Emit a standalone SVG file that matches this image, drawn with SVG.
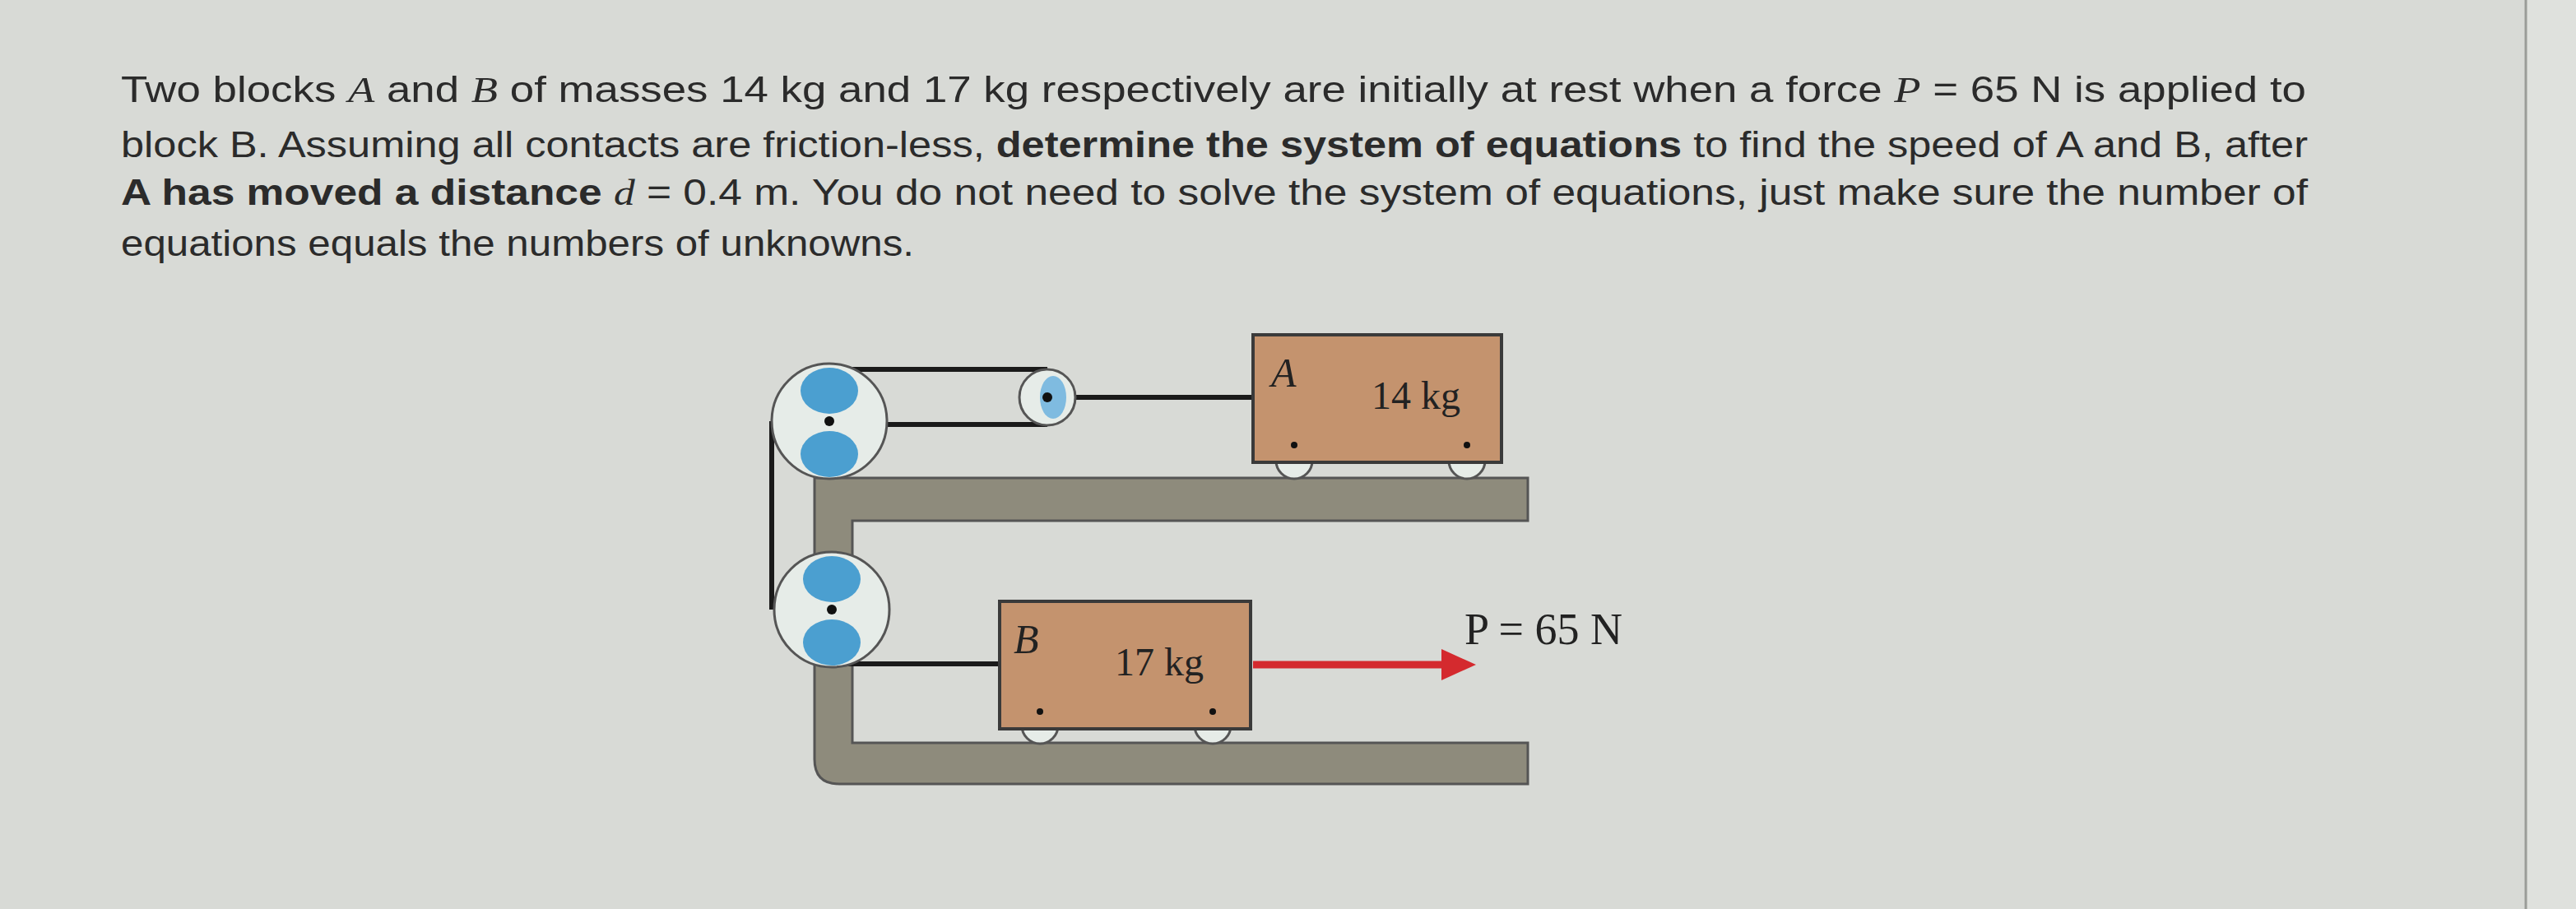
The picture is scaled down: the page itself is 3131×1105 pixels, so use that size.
<svg xmlns="http://www.w3.org/2000/svg" width="3131" height="1105" viewBox="0 0 3131 1105">
<style>
.t{font-family:"Liberation Sans","DejaVu Sans",sans-serif;font-size:44px;fill:#2b2b2b}
.m{font-family:"Liberation Serif",serif;font-style:italic}
.b{font-weight:bold}
.lbl{font-family:"Liberation Serif",serif;fill:#222}
.cord{stroke:#1a1a1a;stroke-width:6;fill:none}
.blk{fill:#c4936e;stroke:#3a3a3a;stroke-width:4}
.wh{fill:#e6ece8;stroke:#555;stroke-width:3}
.track{fill:#8e8b7c;stroke:#555;stroke-width:3}
</style>
<rect width="3131" height="1105" fill="#d8dad6"/>
<rect x="3070" y="0" width="61" height="1105" fill="#dfe1dd"/>
<line x1="3070" y1="0" x2="3070" y2="1105" stroke="#9a9c98" stroke-width="3"/>
<g id="text">
<text class="t" x="147" y="124" textLength="2656" lengthAdjust="spacingAndGlyphs">Two blocks <tspan class="m">A</tspan> and <tspan class="m">B</tspan> of masses 14 kg and 17 kg respectively are initially at rest when a force <tspan class="m">P</tspan> = 65 N is applied to</text>
<text class="t" x="147" y="191" textLength="2658" lengthAdjust="spacingAndGlyphs">block B. Assuming all contacts are friction-less, <tspan class="b">determine the system of equations</tspan> to find the speed of A and B, after</text>
<text class="t" x="147" y="249" textLength="2658" lengthAdjust="spacingAndGlyphs"><tspan class="b">A has moved a distance</tspan> <tspan class="m">d</tspan> = 0.4 m. You do not need to solve the system of equations, just make sure the number of</text>
<text class="t" x="147" y="311" textLength="964" lengthAdjust="spacingAndGlyphs">equations equals the numbers of unknowns.</text>
</g>
<g id="track">
<path class="track" d="M990 581 H1857 V633 H1036 V903 H1857 V953 H1020 Q990 953 990 923 Z"/>
</g>
<g id="connectors">
<line class="cord" x1="1008" y1="449" x2="1273" y2="449"/>
<line class="cord" x1="1008" y1="516" x2="1273" y2="516"/>
<line class="cord" x1="1273" y1="483" x2="1523" y2="483"/>
<line class="cord" x1="938" y1="512" x2="938" y2="741"/>
<line class="cord" x1="1011" y1="807" x2="1215" y2="807"/>
<line x1="1523" y1="808" x2="1760" y2="808" stroke="#d42a2e" stroke-width="9"/>
<polygon points="1752,789 1794,808 1752,827" fill="#d42a2e"/>
</g>
<g id="pulleyTop">
<circle cx="1008" cy="512" r="70" class="wh"/>
<ellipse cx="1008" cy="475" rx="35" ry="28" fill="#4b9fd0"/>
<ellipse cx="1008" cy="552" rx="35" ry="28" fill="#4b9fd0"/>
<circle cx="1008" cy="512" r="6" fill="#111"/>
</g>
<g id="pulleyBottom">
<circle cx="1011" cy="741" r="70" class="wh"/>
<ellipse cx="1011" cy="704" rx="35" ry="28" fill="#4b9fd0"/>
<ellipse cx="1011" cy="781" rx="35" ry="28" fill="#4b9fd0"/>
<circle cx="1011" cy="741" r="6" fill="#111"/>
</g>
<g id="pulleySmall">
<circle cx="1273" cy="483" r="34" class="wh"/>
<ellipse cx="1280" cy="483" rx="16" ry="26" fill="#7fbbe0"/>
<circle cx="1273" cy="483" r="6" fill="#111"/>
</g>
<g id="blockA">
<circle cx="1573" cy="560" r="22" class="wh"/>
<circle cx="1783" cy="560" r="22" class="wh"/>
<rect class="blk" x="1523" y="407" width="302" height="155"/>
<circle cx="1573" cy="541" r="4" fill="#111"/>
<circle cx="1783" cy="541" r="4" fill="#111"/>
<text class="lbl" x="1545" y="470" font-size="50" font-style="italic">A</text>
<text class="lbl" x="1667" y="497" font-size="48">14 kg</text>
</g>
<g id="blockB">
<circle cx="1264" cy="882" r="22" class="wh"/>
<circle cx="1474" cy="882" r="22" class="wh"/>
<rect class="blk" x="1215" y="731" width="305" height="155"/>
<circle cx="1264" cy="865" r="4" fill="#111"/>
<circle cx="1474" cy="865" r="4" fill="#111"/>
<text class="lbl" x="1232" y="794" font-size="50" font-style="italic">B</text>
<text class="lbl" x="1355" y="821" font-size="48">17 kg</text>
</g>
<g id="forceLabel">
<text class="lbl" x="1780" y="783" font-size="54">P = 65 N</text>
</g>
</svg>
